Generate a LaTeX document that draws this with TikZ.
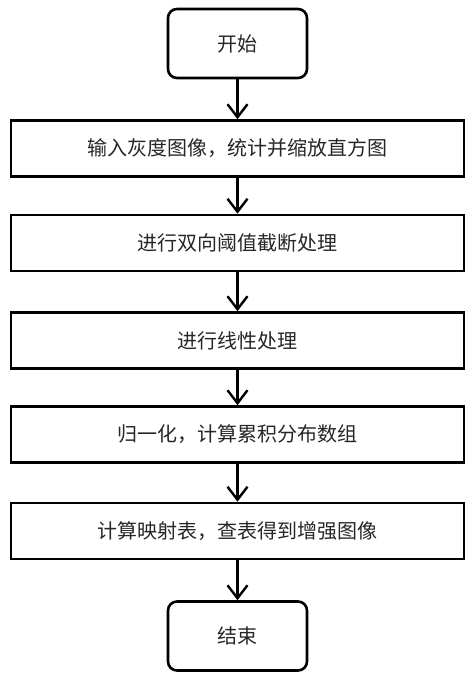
\documentclass[tikz,border=0pt]{standalone}
\usepackage{fontspec}
\newfontfamily\cjk{Noto Sans CJK SC}
\usetikzlibrary{arrows.meta}
\begin{document}
\begin{tikzpicture}[x=1pt,y=-1pt,
  box/.style={draw=black,line width=2.6pt,inner sep=0pt,font=\cjk\fontsize{20}{24}\selectfont,text=black!85},
  term/.style={box,rounded corners=9pt,minimum width=139pt,minimum height=69pt},
  proc/.style={box,minimum width=453pt,minimum height=56pt},
  arr/.style={line width=2.4pt,-{Straight Barb[length=13pt,width=20pt,line width=2.4pt]}}]
\useasboundingbox (0,0) rectangle (474,682);
\node[term] (s) at (237.5,43.5) {开始};
\node[proc] (b1) at (237.5,148.5) {输入灰度图像，统计并缩放直方图};
\node[proc] (b2) at (237.5,243) {进行双向阈值截断处理};
\node[proc] (b3) at (237.5,340.5) {进行线性处理};
\node[proc] (b4) at (237.5,434.5) {归一化，计算累积分布数组};
\node[proc] (b5) at (237.5,531) {计算映射表，查表得到增强图像};
\node[term] (e) at (237.5,636) {结束};
\draw[arr] (s) -- (b1);
\draw[arr] (b1) -- (b2);
\draw[arr] (b2) -- (b3);
\draw[arr] (b3) -- (b4);
\draw[arr] (b4) -- (b5);
\draw[arr] (b5) -- (e);
\end{tikzpicture}
\end{document}
